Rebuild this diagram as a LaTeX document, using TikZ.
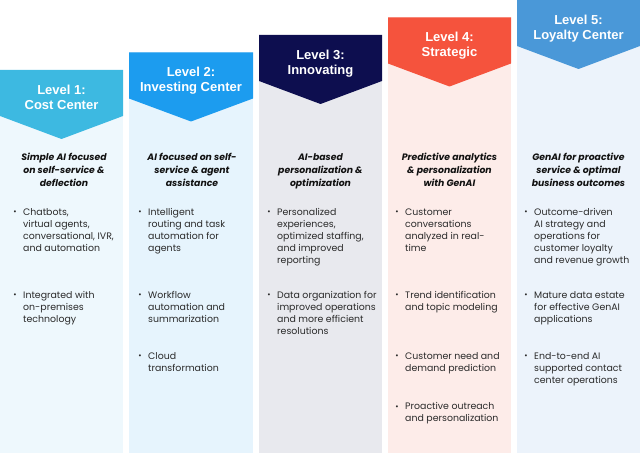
\documentclass[tikz,border=0pt]{standalone}
\usepackage{fontspec}
\setmainfont{Poppins}
\newfontfamily\headfont{Liberation Sans}
\definecolor{hA}{HTML}{3DB9E1}\definecolor{pA}{HTML}{EEF8FD}
\definecolor{hB}{HTML}{1C9CEF}\definecolor{pB}{HTML}{E6F4FD}
\definecolor{hC}{HTML}{0D0E4F}\definecolor{pC}{HTML}{E8E9EE}
\definecolor{hD}{HTML}{F5533D}\definecolor{pD}{HTML}{FDECE9}
\definecolor{hE}{HTML}{4A98D8}\definecolor{pE}{HTML}{ECF3FB}
\definecolor{bodycol}{HTML}{2A2A2A}
\definecolor{subcol}{HTML}{111111}
\tikzset{
  headtext/.style={text=white, font=\headfont\bfseries\fontsize{13}{15}\selectfont, align=center, anchor=north, inner sep=0pt},
  subtext/.style={text=subcol, font=\bfseries\itshape\fontsize{9.3}{13}\selectfont, align=center, anchor=north, inner sep=0pt},
  bodytext/.style={text=bodycol, font=\fontsize{9.4}{12}\selectfont, align=left, anchor=north west, inner sep=0pt},
  bulletmark/.style={text=bodycol, font=\fontsize{8}{12}\selectfont, anchor=base, inner sep=0pt}
}
\begin{document}
\begin{tikzpicture}[x=1pt,y=-1pt]
\useasboundingbox (0,0) rectangle (640,454);
% panels
\fill[pA] (0,70) rectangle (123,453);
\fill[pB] (129,52.5) rectangle (253,453);
\fill[pC] (259,35) rectangle (382,453);
\fill[pD] (388,17.5) rectangle (511,453);
\fill[pE] (517,0) rectangle (640,453);
% headers
\fill[hA] (0,70) -- (123,70) -- (123,116) -- (61.5,139) -- (0,116) -- cycle;
\fill[hB] (129,52.5) -- (253,52.5) -- (253,98.5) -- (191,121.5) -- (129,98.5) -- cycle;
\fill[hC] (259,35) -- (382,35) -- (382,81) -- (320.5,104) -- (259,81) -- cycle;
\fill[hD] (388,17.5) -- (511,17.5) -- (511,63.5) -- (449.5,86.5) -- (388,63.5) -- cycle;
\fill[hE] (517,0) -- (640,0) -- (640,46) -- (578.5,69) -- (517,46) -- cycle;
\node[headtext] (tA) at (61.5,83.5) {\strut Level 1:\\Cost Center};
\node[headtext] (tB) at (191,66) {\strut Level 2:\\Investing Center};
\node[headtext] (tC) at (320.5,48.5) {\strut Level 3:\\Innovating};
\node[headtext] (tD) at (449.5,31) {\strut Level 4:\\Strategic};
\node[headtext] (tE) at (578.5,13.5) {\strut Level 5:\\Loyalty Center};
% subheadings
\node[subtext] (sA) at (64,150.9) {\strut Simple AI focused\\on self-service \&\\deflection};
\node[subtext] (sB) at (192,150.9) {\strut AI focused on self-\\service \& agent\\assistance};
\node[subtext] (sC) at (320.5,150.9) {\strut AI-based\\personalization \&\\optimization};
\node[subtext] (sD) at (449.5,150.9) {\strut Predictive analytics\\\& personalization\\with GenAI};
\node[subtext] (sE) at (578.5,150.9) {\strut GenAI for proactive\\service \& optimal\\business outcomes};
% column 1 bullets
\node[bulletmark] (dA1) at (15,215) {•};
\node[bodytext] (bA1) at (23,206.6) {\strut Chatbots,\\virtual agents,\\conversational, IVR,\\and automation};
\node[bulletmark] (dA2) at (15,298) {•};
\node[bodytext] (bA2) at (23,289.6) {\strut Integrated with\\on-premises\\technology};
% column 2
\node[bulletmark] (dB1) at (140,215) {•};
\node[bodytext] (bB1) at (148,206.6) {\strut Intelligent\\routing and task\\automation for\\agents};
\node[bulletmark] (dB2) at (140,298) {•};
\node[bodytext] (bB2) at (148,289.6) {\strut Workflow\\automation and\\summarization};
\node[bulletmark] (dB3) at (140,359) {•};
\node[bodytext] (bB3) at (148,350.6) {\strut Cloud\\transformation};
% column 3
\node[bulletmark] (dC1) at (269,215) {•};
\node[bodytext] (bC1) at (277,206.6) {\strut Personalized\\experiences,\\optimized staffing,\\and improved\\reporting};
\node[bulletmark] (dC2) at (269,298) {•};
\node[bodytext] (bC2) at (277,289.6) {\strut Data organization for\\improved operations\\and more efficient\\resolutions};
% column 4
\node[bulletmark] (dD1) at (397,215) {•};
\node[bodytext] (bD1) at (405,206.6) {\strut Customer\\conversations\\analyzed in real-\\time};
\node[bulletmark] (dD2) at (397,298) {•};
\node[bodytext] (bD2) at (405,289.6) {\strut Trend identification\\and topic modeling};
\node[bulletmark] (dD3) at (397,359) {•};
\node[bodytext] (bD3) at (405,350.6) {\strut Customer need and\\demand prediction};
\node[bulletmark] (dD4) at (397,409) {•};
\node[bodytext] (bD4) at (405,400.6) {\strut Proactive outreach\\and personalization};
% column 5
\node[bulletmark] (dE1) at (526,215) {•};
\node[bodytext] (bE1) at (534,206.6) {\strut Outcome-driven\\AI strategy and\\operations for\\customer loyalty\\and revenue growth};
\node[bulletmark] (dE2) at (526,298) {•};
\node[bodytext] (bE2) at (534,289.6) {\strut Mature data estate\\for effective GenAI\\applications};
\node[bulletmark] (dE3) at (526,359) {•};
\node[bodytext] (bE3) at (534,350.6) {\strut End-to-end AI\\supported contact\\center operations};
\end{tikzpicture}
\end{document}
